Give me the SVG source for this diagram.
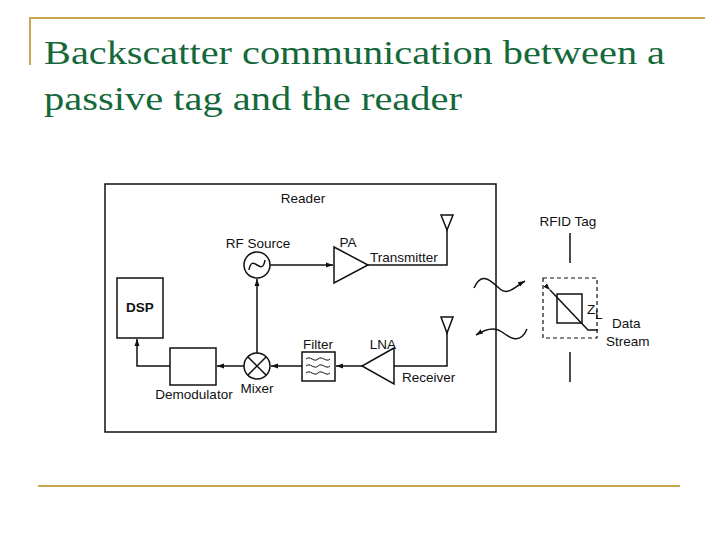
<svg xmlns="http://www.w3.org/2000/svg" width="720" height="540" viewBox="0 0 720 540">
<style>
.t{font-family:"Liberation Serif",serif;font-size:34px;fill:#14683a}
.l{font-family:"Liberation Sans",Arial,sans-serif;font-size:13.5px;fill:#111}
.s{stroke:#111;stroke-width:1.5;fill:none}
.w{stroke:#111;stroke-width:1.5;fill:#fff}
.g{stroke:#c8a850;stroke-width:2;fill:none}
</style>
<defs>
<marker id="a" markerWidth="8" markerHeight="8" refX="7" refY="4" orient="auto" markerUnits="userSpaceOnUse"><path d="M0,1.5 L7,4 L0,6.5 Z" fill="#111"/></marker>
</defs>
<rect width="720" height="540" fill="#fff"/>
<path class="g" d="M30,65 V18 H705 M38,486 H680"/>
<text class="t" x="44" y="64" textLength="621" lengthAdjust="spacingAndGlyphs">Backscatter communication between a</text>
<text class="t" x="44" y="110" textLength="418" lengthAdjust="spacingAndGlyphs">passive tag and the reader</text>

<g id="reader"><rect x="105" y="184" width="391" height="248" class="s"/><text class="l" x="303" y="203" text-anchor="middle">Reader</text></g>
<g id="rfsource"><circle cx="257" cy="265" r="13" class="w"/><path class="s" d="M249,270 C252,252 262,278 265,260"/><text class="l" x="258" y="248" text-anchor="middle">RF Source</text></g>
<g id="pa"><path class="w" d="M334,247 L368,265 L334,283 Z"/><text class="l" x="348" y="247" text-anchor="middle">PA</text><text class="l" x="370" y="262">Transmitter</text></g>
<g id="txant"><path class="s" d="M441,215 H453 L447,230 Z"/></g>
<g id="dsp"><rect x="117" y="278" width="46" height="60" class="w"/><text class="l" x="140" y="312" text-anchor="middle" font-weight="bold">DSP</text></g>
<g id="demod"><rect x="170" y="348" width="46" height="37" class="w"/><text class="l" x="194" y="399" text-anchor="middle">Demodulator</text></g>
<g id="mixer"><circle cx="257" cy="366" r="13" class="w"/><path class="s" d="M248,357 L266,375 M266,357 L248,375"/><text class="l" x="257" y="393" text-anchor="middle">Mixer</text></g>
<g id="filter"><rect x="302" y="352" width="33" height="29" class="w"/><path d="M306,359 c4,-4 8,4 12,0 c4,-4 8,4 12,0 M306,366 c4,-4 8,4 12,0 c4,-4 8,4 12,0 M306,373 c4,-4 8,4 12,0 c4,-4 8,4 12,0" stroke="#111" fill="none"/><text class="l" x="318" y="349" text-anchor="middle">Filter</text></g>
<g id="lna"><path class="w" d="M394,348 L362,366 L394,384 Z"/><text class="l" x="383" y="349" text-anchor="middle">LNA</text><text class="l" x="402" y="382">Receiver</text></g>
<g id="rxant"><path class="s" d="M441,317 H453 L447,333 Z"/></g>

<g id="tag">
<text class="l" x="568" y="226" text-anchor="middle">RFID Tag</text>
<path class="s" d="M570,233 V263 M570,352 V382"/>
<rect x="543" y="278" width="54" height="60" fill="none" stroke="#111" stroke-width="1.2" stroke-dasharray="4,3"/>
<rect x="557" y="294" width="25" height="29" class="s"/>
<path class="s" d="M550,290 L588,330 H598" marker-start="url(#a)"/>
<text class="l" x="587" y="314" font-size="14">Z</text><text class="l" x="595" y="319" font-size="10">L</text>
<text class="l" x="612" y="328">Data</text><text class="l" x="606" y="346">Stream</text>
</g>

<g id="connectors">
<path class="s" d="M270,265 H333" marker-end="url(#a)"/>
<path class="s" d="M368,265 H447 V230"/>
<path class="s" d="M257,353 V279" marker-end="url(#a)"/>
<path class="s" d="M244,366 H217" marker-end="url(#a)"/>
<path class="s" d="M170,366 H137 V339" marker-end="url(#a)"/>
<path class="s" d="M302,366 H271" marker-end="url(#a)"/>
<path class="s" d="M362,366 H336" marker-end="url(#a)"/>
<path class="s" d="M394,366 H447 V333"/>
<path class="s" d="M474,288 C482,270 492,282 500,289 C508,296 516,286 525,281" marker-end="url(#a)"/>
<path class="s" d="M527,329 C520,345 510,338 502,332 C494,326 484,330 476,335" marker-end="url(#a)"/>
</g>
</svg>
